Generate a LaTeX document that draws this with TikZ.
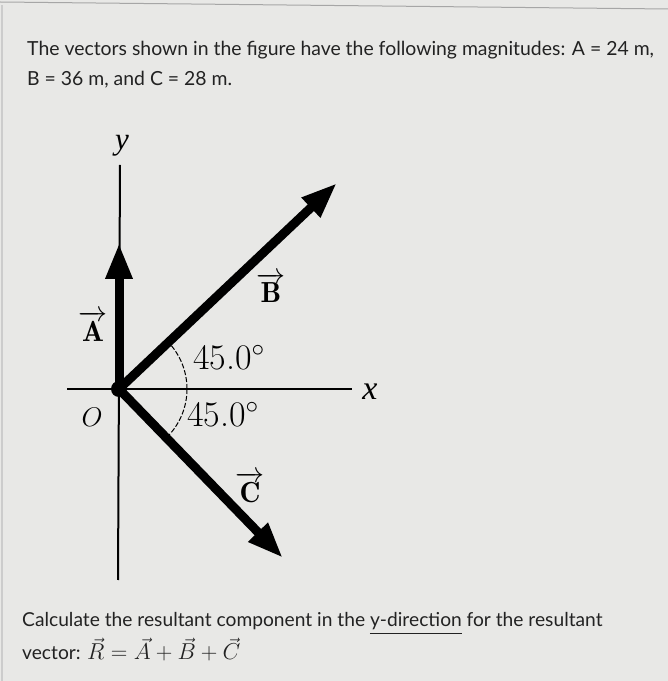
\RequirePackage{fix-cm}
\documentclass[tikz,border=0pt]{standalone}
\usepackage{amsmath}
\usepackage{fontspec}
\newfontfamily\latofont{Lato}
\newfontfamily\figserif{Liberation Serif}
\usetikzlibrary{arrows.meta}
\definecolor{bgcol}{HTML}{E8E8E6}
\definecolor{txtcol}{HTML}{222222}
\tikzset{
  body/.style={anchor=base west, inner sep=0pt, text=txtcol, font=\latofont\fontsize{19.4}{24}\selectfont},
  axis/.style={line width=2pt, black},
  vecline/.style={line width=9pt, black, -{Triangle[length=36pt,width=25pt]}},
  anglearc/.style={line width=1pt, black, dash pattern=on 5pt off 2pt},
  biglabel/.style={inner sep=0pt, anchor=base, font=\fontsize{36}{38}\selectfont},
  veclabel/.style={inner sep=0pt, anchor=base, font=\fontsize{29}{30}\selectfont},
}
\begin{document}
\begin{tikzpicture}[x=1pt,y=1pt]
\useasboundingbox (0,0) rectangle (668,681);
\fill[bgcol] (0,0) rectangle (668,681);
\draw[gray!70, line width=1pt] (0,679) -- (668,672);
\draw[gray!40, line width=2pt] (2,0) -- (2,676);

% question text
\node[body] (t1) at (27,625) {The vectors shown in the figure have the following magnitudes: A = 24 m,};
\node[body] (t2) at (27,595) {B = 36 m, and C = 28 m.};
\node[body, font=\latofont\fontsize{19.2}{24}\selectfont] (t3) at (22,54) {Calculate the resultant component in the \underline{y-direction} for the resultant};
\node[body, font=\latofont\fontsize{19.2}{24}\selectfont] (t4) at (22,21) {vector: \fontsize{23}{25}\selectfont$\vec{R}=\vec{A}+\vec{B}+\vec{C}$};

% coordinates
\coordinate (O) at (119,292);
\coordinate (ytop) at (120,516);
\coordinate (ybot) at (118,101);
\coordinate (xl) at (67,292);
\coordinate (xr) at (352,292);
\coordinate (Atip) at (119,438);
\coordinate (Btip) at (337,498);
\coordinate (Ctip) at (283,123);

% axes
\draw[axis] (ybot) -- (ytop);
\draw[axis] (xl) -- (xr);

% angle arcs
\draw[anglearc] ([shift={(0:68)}]O) arc[start angle=0, end angle=43.4, radius=68];
\draw[anglearc] ([shift={(0:68)}]O) arc[start angle=0, end angle=-45.8, radius=68];

% vectors
\draw[vecline] (O) -- (Atip);
\draw[vecline] (O) -- (Btip);
\draw[vecline] (O) -- (Ctip);
\fill (O) circle[radius=8];

% labels
\node[biglabel, font=\figserif\itshape\fontsize{31}{33}\selectfont] (ylab) at (122,531) {y};
\node[biglabel, font=\figserif\itshape\fontsize{34}{36}\selectfont] (xlab) at (370,281) {x};
\node[biglabel, font=\fontsize{27}{27}\selectfont] (Olab) at (92,254) {$O$};
\node[veclabel] (Alab) at (93,339) {$\overrightarrow{\mathbf{A}}$};
\node[veclabel] (Blab) at (271,378) {$\overrightarrow{\mathbf{B}}$};
\node[veclabel] (Clab) at (250,178) {$\overrightarrow{\mathbf{C}}$};
\node[biglabel] (ang1) at (229,311) {45.0$^\circ$};
\node[biglabel] (ang2) at (223,254) {45.0$^\circ$};
\end{tikzpicture}
\end{document}
